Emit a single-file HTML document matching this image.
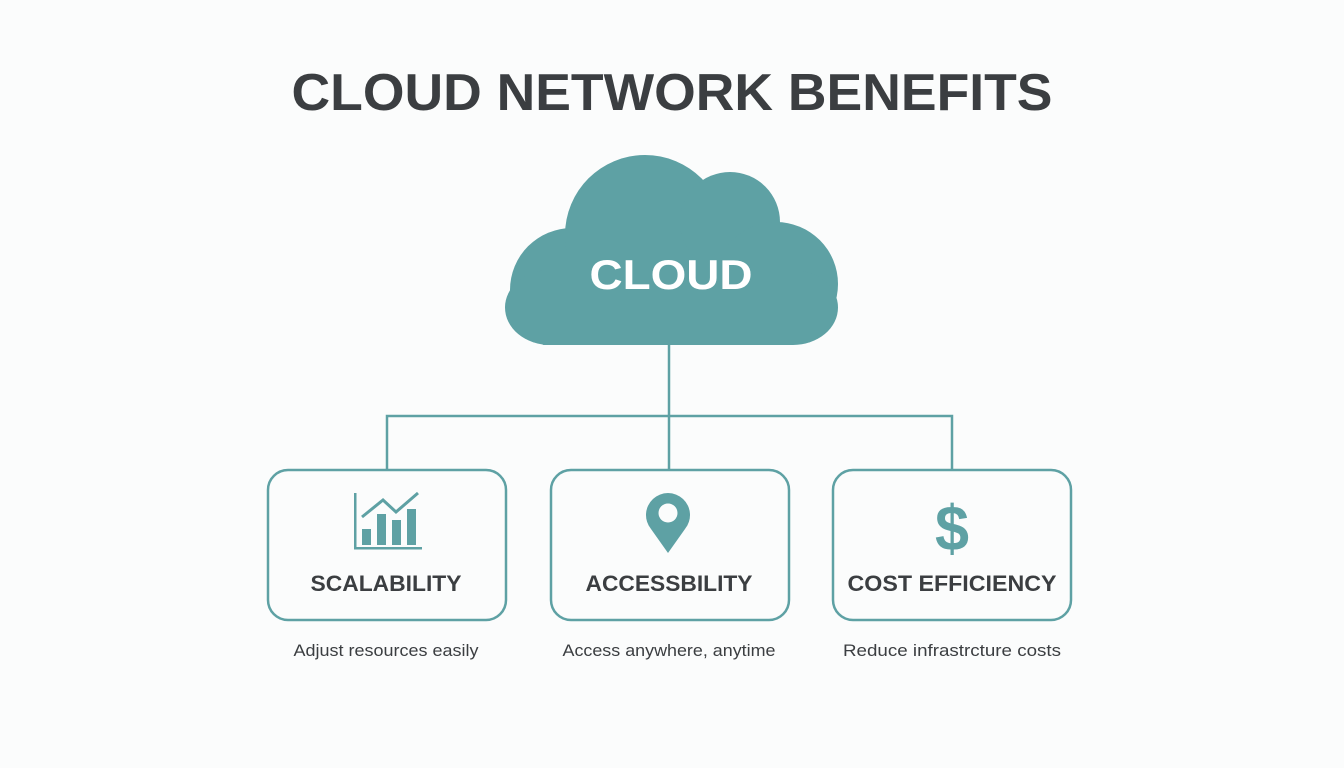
<!DOCTYPE html>
<html><head><meta charset="utf-8"><style>
html,body{margin:0;padding:0;background:#fbfcfc;}
svg{display:block;}
</style></head><body>
<svg width="1344" height="768" viewBox="0 0 1344 768" xmlns="http://www.w3.org/2000/svg">
<defs><clipPath id="c"><rect x="0" y="0" width="1344" height="345"/></clipPath></defs>
<rect width="1344" height="768" fill="#fbfcfc"/>
<text x="672" y="110" text-anchor="middle" font-family="Liberation Sans, sans-serif" font-weight="bold" font-size="52" fill="#3b3e41" textLength="761" lengthAdjust="spacingAndGlyphs">CLOUD NETWORK BENEFITS</text>
<!-- cloud -->
<g fill="#5ea1a4" clip-path="url(#c)">
<circle cx="572" cy="290" r="62"/>
<circle cx="645" cy="235" r="80"/>
<circle cx="730" cy="222" r="50"/>
<circle cx="776" cy="284" r="62"/>
<rect x="505" y="270" width="333" height="75" rx="45"/>
<rect x="560" y="250" width="230" height="95"/>
</g>
<text x="671" y="289" text-anchor="middle" font-family="Liberation Sans, sans-serif" font-weight="bold" font-size="42" fill="#ffffff" textLength="163" lengthAdjust="spacingAndGlyphs">CLOUD</text>
<!-- connectors -->
<g stroke="#5ea1a4" stroke-width="2.5" fill="none">
<line x1="669" y1="345" x2="669" y2="470"/>
<polyline points="387,470 387,416 952,416 952,470"/>
<rect x="268" y="470" width="238" height="150" rx="20"/>
<rect x="551" y="470" width="238" height="150" rx="20"/>
<rect x="833" y="470" width="238" height="150" rx="20"/>
</g>
<!-- scalability icon -->
<g fill="#5ea1a4">
<rect x="354" y="493" width="2.5" height="56"/>
<rect x="354" y="547" width="68" height="2.5"/>
<rect x="362" y="529" width="9" height="16"/>
<rect x="377" y="514" width="9" height="31"/>
<rect x="392" y="520" width="9" height="25"/>
<rect x="407" y="509" width="9" height="36"/>
</g>
<polyline points="362,517 383,500 396,512 418,493" fill="none" stroke="#5ea1a4" stroke-width="3"/>
<!-- pin -->
<path d="M668 553 L651 529 A22 22 0 1 1 685 529 Z" fill="#5ea1a4"/>
<circle cx="668" cy="513" r="9.5" fill="#fbfcfc"/>
<!-- dollar -->
<text x="952" y="550" text-anchor="middle" font-family="Liberation Sans, sans-serif" font-weight="bold" font-size="64" fill="#5ea1a4" textLength="34" lengthAdjust="spacingAndGlyphs">$</text>
<!-- labels -->
<g font-family="Liberation Sans, sans-serif" font-weight="bold" font-size="22" fill="#3b3e41" text-anchor="middle">
<text x="386" y="591" textLength="151" lengthAdjust="spacingAndGlyphs">SCALABILITY</text>
<text x="669" y="591" textLength="167" lengthAdjust="spacingAndGlyphs">ACCESSBILITY</text>
<text x="952" y="591" textLength="209" lengthAdjust="spacingAndGlyphs">COST EFFICIENCY</text>
</g>
<g font-family="Liberation Sans, sans-serif" font-size="17" fill="#3b3e41" text-anchor="middle">
<text x="386" y="656" textLength="185" lengthAdjust="spacingAndGlyphs">Adjust resources easily</text>
<text x="669" y="656" textLength="213" lengthAdjust="spacingAndGlyphs">Access anywhere, anytime</text>
<text x="952" y="656" textLength="218" lengthAdjust="spacingAndGlyphs">Reduce infrastrcture costs</text>
</g>
</svg>
</body></html>
